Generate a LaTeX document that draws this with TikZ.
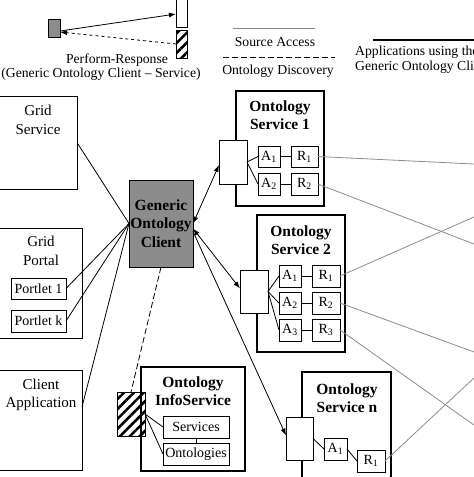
\documentclass[tikz,border=0pt]{standalone}
\usepackage{fontspec}
\setmainfont{Liberation Serif}
\usetikzlibrary{arrows.meta,patterns.meta}

\begin{document}
\begin{tikzpicture}[x=1pt,y=-1pt,
    box/.style={draw,line width=0.8pt,fill=white,inner sep=0pt,outer sep=0pt},
    svcbox/.style={box,line width=1.8pt},
    cell/.style={box,font=\fontsize{14}{16}\selectfont},
    hatched/.style={box,pattern={Lines[angle=45,distance=7pt,line width=2.6pt]}},
    txt/.style={font=\fontsize{15}{18.5}\selectfont,align=center},
    ttl/.style={font=\fontsize{15.5}{18.5}\selectfont\bfseries,align=center},
    lgd/.style={font=\fontsize{13.7}{15}\selectfont,align=center},
    link/.style={line width=0.8pt},
    source/.style={line width=0.8pt,gray!90},
    arr/.style={line width=0.8pt,-{Latex[length=7pt,width=5pt]}},
    biarr/.style={line width=0.8pt,{Latex[length=7pt,width=5pt]}-{Latex[length=7pt,width=5pt]}}]
    \useasboundingbox (0,0) rectangle (474,477);
    \clip (0,0) rectangle (474,477);

    % legend
    \node[box,fill=gray!90,minimum width=12pt,minimum height=18pt] (client) at (54,28) {};
    \node[box,minimum width=11pt,minimum height=32pt] (server) at (181.5,11) {};
    \node[hatched,minimum width=11pt,minimum height=28pt] (infonode) at (181.5,44) {};
    \draw[arr] ([yshift=-3pt]client.east) -- ([yshift=-3pt]server.west);
    \draw[arr,dashed] (infonode.west) -- ([yshift=-4pt]client.east);
    \node[lgd] (prtxt) at (117,60) {Perform-Response};
    \node[lgd] (prsub) at (101,74) {(Generic Ontology Client -- Service)};
    \draw[source] (233,28) -- (315,28);
    \node[lgd] (srctxt) at (275,42) {Source Access};
    \draw[link,dashed,dash pattern=on 6pt off 3pt] (223,57) -- (335,57);
    \node[lgd] (disctxt) at (278,71) {Ontology Discovery};
    \draw[line width=1.3pt] (373,40) -- (480,40);
    \node[lgd,align=left,anchor=north west,inner sep=0pt] (apptxt) at (355,46) {Applications using the\\Generic Ontology Client};

    % grid side
    \node[box,minimum width=79pt,minimum height=93pt] (gsvc) at (37.5,142.5) {};
    \node[txt] at (38,120) {Grid\\Service};
    \node[box,minimum width=84pt,minimum height=110pt] (gportal) at (40,283) {};
    \node[txt] at (41,251) {Grid\\Portal};
    \node[cell,minimum width=55pt,minimum height=21pt] (plt1) at (38.5,288.5) {Portlet 1};
    \node[cell,minimum width=55pt,minimum height=22pt] (pltk) at (38.5,321) {Portlet k};
    \node[box,minimum width=84pt,minimum height=100pt] (capp) at (40,420) {};
    \node[txt] at (41,395) {Client\\Application};

    % generic ontology client
    \node[box,fill=gray!90,minimum width=64pt,minimum height=87pt,ttl] (goc) at (161,223.5) {Generic\\Ontology\\Client};
    \draw[link] (gsvc.east) -- (goc.west);
    \draw[link] (plt1.east) -- (goc.west);
    \draw[link] (pltk.east) -- (goc.west);
    \draw[link] ([yshift=13pt]capp.east) -- (goc.west);

    % ontology service 1
    \node[svcbox,minimum width=88pt,minimum height=115pt] (os1) at (280,148.5) {};
    \node[ttl] at (280,115) {Ontology\\Service 1};
    \node[box,minimum width=28pt,minimum height=44pt] (os1c) at (233,162) {};
    \node[cell,minimum width=22pt,minimum height=21pt] (a11) at (269,156.5) {A\textsubscript{1}};
    \node[cell,minimum width=27pt,minimum height=21pt] (r11) at (304.5,156.5) {R\textsubscript{1}};
    \node[cell,minimum width=22pt,minimum height=22pt] (a12) at (269,184) {A\textsubscript{2}};
    \node[cell,minimum width=27pt,minimum height=22pt] (r12) at (304.5,184) {R\textsubscript{2}};
    \draw[link] (os1c.east) -- (a11.west);
    \draw[link] (os1c.east) -- (a12.west);
    \draw[link] (a11) -- (r11);
    \draw[link] (a12) -- (r12);

    % ontology service 2
    \node[svcbox,minimum width=88pt,minimum height=137pt] (os2) at (301,283.5) {};
    \node[ttl] at (301,240) {Ontology\\Service 2};
    \node[box,minimum width=28pt,minimum height=43pt] (os2c) at (254,291.5) {};
    \foreach \i/\y in {1/276,2/303,3/330} {
        \node[cell,minimum width=22pt,minimum height=22pt] (a2\i) at (290,\y) {A\textsubscript{\i}};
        \node[cell,minimum width=28pt,minimum height=22pt] (r2\i) at (326,\y) {R\textsubscript{\i}};
        \draw[link] (os2c.east) -- (a2\i.west);
        \draw[link] (a2\i) -- (r2\i);
    }

    % ontology service n
    \node[svcbox,minimum width=89pt,minimum height=118pt] (osn) at (346.5,431) {};
    \node[ttl] at (347,398) {Ontology\\Service n};
    \node[box,minimum width=27pt,minimum height=43pt] (osnc) at (299.5,438.5) {};
    \node[cell,minimum width=23pt,minimum height=22pt] (an1) at (335.5,449) {A\textsubscript{1}};
    \node[cell,minimum width=28pt,minimum height=22pt] (rn1) at (371,461) {R\textsubscript{1}};
    \draw[link] (osnc.east) -- (an1.west);
    \draw[link] (an1.east) -- (rn1.west);

    % ontology infoservice
    \node[svcbox,minimum width=104pt,minimum height=104pt] (info) at (193,419) {};
    \node[ttl] at (193,391) {Ontology\\InfoService};
    \node[cell,minimum width=66pt,minimum height=22pt] (srvs) at (196,427) {Services};
    \node[cell,minimum width=66pt,minimum height=22pt] (ontos) at (196,454) {Ontologies};
    \draw[link] (srvs.south) -- (ontos.north);
    \node[hatched,minimum width=28pt,minimum height=44pt] (infoc) at (131,414) {};
    \draw[link] (infoc.east) -- (srvs.west);
    \draw[link] (infoc.east) -- (ontos.west);

    % client to services
    \draw[biarr] (goc.east) -- ([yshift=-3pt]os1c.west);
    \draw[biarr] ([yshift=-5pt]goc.east) -- ([yshift=3pt]os2c.west);
    \draw[arr] ([yshift=-8pt]goc.east) -- ([yshift=3pt]osnc.west);
    \draw[link,dashed,dash pattern=on 6pt off 3pt] (goc.south) -- (infoc.north);

    % sources to applications
    \coordinate (app1) at (474,164);
    \coordinate (app2) at (474,244);
    \coordinate (app3) at (474,217);
    \coordinate (app4) at (474,352);
    \coordinate (app5) at (474,425);
    \coordinate (app6) at (474,378);
    \draw[source] (r11.east) -- (app1);
    \draw[source] (r12.east) -- (app2);
    \draw[source] (r21.east) -- (app3);
    \draw[source] (r22.east) -- (app4);
    \draw[source] (r23.east) -- (app5);
    \draw[source] (rn1.east) -- (app6);
\end{tikzpicture}
\end{document}
